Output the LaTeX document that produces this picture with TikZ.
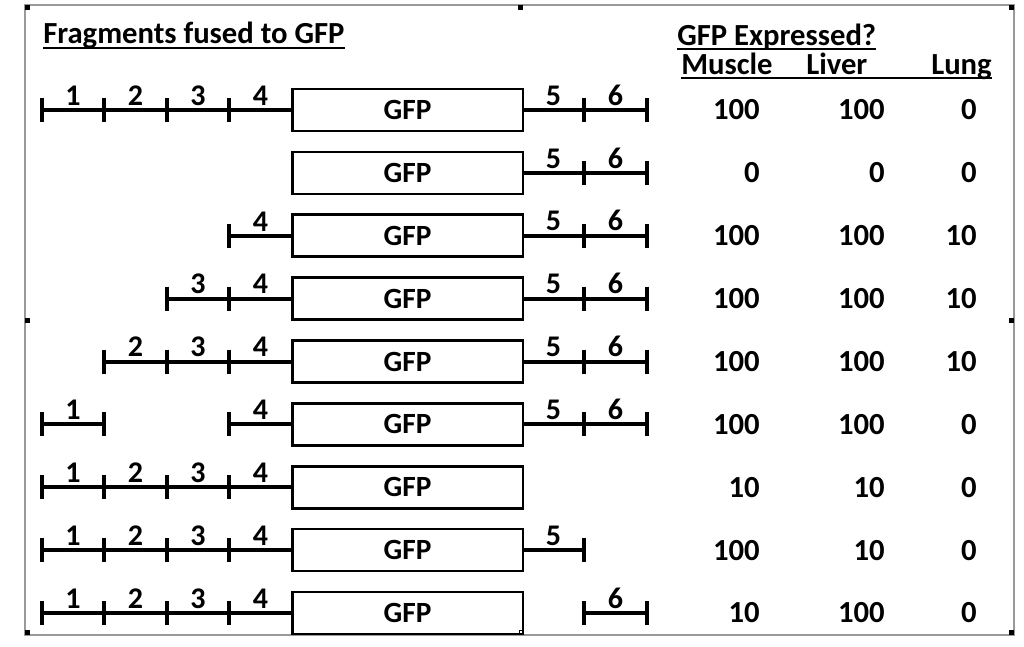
\documentclass[tikz,border=0pt]{standalone}
\usepackage{fontspec}
\setmainfont{Carlito}
\usetikzlibrary{calc}

\tikzset{
  frag/.style={line width=3pt},
  endbar/.style={line width=3pt},
  gfpbox/.style={draw, line width=2pt, minimum width=173pt, minimum height=31.5pt,
    inner sep=0pt, font=\fontsize{22}{26}\selectfont\bfseries},
  seglab/.style={midway, above, inner sep=2pt, font=\fontsize{22.5}{26}\selectfont\bfseries},
  val/.style={anchor=east, inner sep=0pt, font=\fontsize{23}{27}\selectfont\bfseries},
  head/.style={anchor=base west, inner sep=0pt, font=\fontsize{23}{27}\selectfont\bfseries},
  uline/.style={line width=1.5pt},
  handle/.style={fill=black}
}

\begin{document}
\begin{tikzpicture}[x=0.75pt,y=0.75pt,yscale=-1,xscale=1]
\useasboundingbox (0,0) rectangle (1024,646);

% frame with its handles
\draw[gray!80, line width=0.8pt] (25,5) rectangle (1014,635);
\fill[handle] (25,5) rectangle ++(5,5);
\fill[handle] (518,5) rectangle ++(5,5);
\fill[handle] (1009,5) rectangle ++(5,5);
\fill[handle] (25,318) rectangle ++(5,5);
\fill[handle] (1009,318) rectangle ++(5,5);
\fill[handle] (25,630) rectangle ++(5,5);
\fill[handle] (1009,630) rectangle ++(5,5);
\draw[fill=white, line width=0.5pt] (519,630) rectangle ++(4,4);

% headings
\node[head] (t1) at (43,43) {Fragments fused to GFP};
\draw[uline] ($(t1.base west)+(0,5)$) -- ($(t1.base east)+(0,5)$);
\node[head] (t2) at (677,45) {GFP Expressed?};
\draw[uline] ($(t2.base west)+(0,4)$) -- ($(t2.base east)+(0,4)$);
\node[head] (hm) at (681,74) {Muscle};
\node[head] (hl) at (806,74) {Liver};
\node[head] (hu) at (931,74) {Lung};
\draw[uline] ($(hm.base west)+(0,4)$) -- ($(hu.base east)+(0,4)$);

% constructs
\foreach \r/\y/\segs/\m/\l/\u in {
  1/110/{1,2,3,4,5,6}/100/100/0,
  2/172.9/{5,6}/0/0/0,
  3/235.75/{4,5,6}/100/100/10,
  4/298.6/{3,4,5,6}/100/100/10,
  5/361.5/{2,3,4,5,6}/100/100/10,
  6/424.4/{1,4,5,6}/100/100/0,
  7/487.25/{1,2,3,4}/10/10/0,
  8/550.1/{1,2,3,4,5}/100/10/0,
  9/613/{1,2,3,4,6}/10/100/0} {
  \node[gfpbox] (g\r) at (407.5,\y) {GFP};
  \foreach \s in \segs {
    \pgfmathsetmacro\xa{{42,104,167,229,523,584}[\s-1]}
    \pgfmathsetmacro\xb{{104,167,229,292,584,647}[\s-1]}
    \draw[frag] (\xa,\y) -- node[seglab] (n\r-\s) {\s} (\xb,\y);
    \ifnum\s=5\else\draw[endbar] (\xa,\y-12) -- (\xa,\y+12);\fi
    \ifnum\s=4\else\draw[endbar] (\xb,\y-12) -- (\xb,\y+12);\fi
  }
  \node[val] (m\r) at (760,\y) {\m};
  \node[val] (l\r) at (885,\y) {\l};
  \node[val] (u\r) at (977,\y) {\u};
}

\end{tikzpicture}
\end{document}
